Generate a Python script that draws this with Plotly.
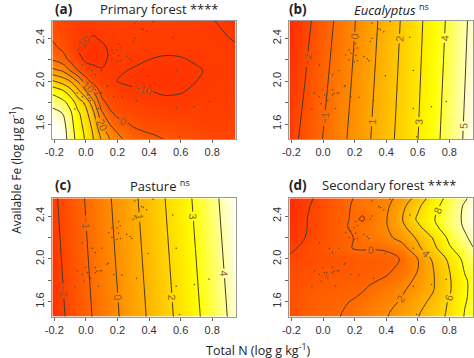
import plotly.graph_objects as go

# Shared sample points: total N (log), available Fe (log)
pts_n = [.165,.176,.197,.218,.207,.165,.218,.259,.28,.29,.30,.31,.353,.385,.364,.31,.426,.55,-.023,.04,.10,.06,.572,.395,.14,.06,.09,.10,.06,.023,-.054,-.023,.02,.03,-.012,-.07,.08,.176,.228,.32,.572,.687,.593,.78,.144,.197,.134,.07,-.002,.009,.207]
pts_fe = [2.29,2.26,2.29,2.31,2.24,2.20,2.19,2.23,2.21,2.19,2.37,2.40,2.49,2.46,2.48,2.54,2.556,2.41,2.15,2.10,2.10,2.06,2.10,2.05,1.96,1.92,1.89,1.89,1.87,1.87,1.89,1.855,1.84,1.82,1.79,1.74,1.745,1.855,1.85,1.82,1.745,1.76,1.48,1.81,2.245,2.18,1.95,1.885,1.92,1.87,2.35]

# Panel (a) Primary forest
a_x = [-0.25,-0.15,-0.1,-0.05,0,.05,.1,.15,.2,.3,.4,.5,.6,.7,.8,1.0]
a_y = [1.4,1.5,1.6,1.7,1.8,1.9,2.0,2.1,2.2,2.3,2.4,2.6]
a_z = [
 [81,77,66,57,49,40,32,24,18,7,3,1,-1,-3,-5,-5],
 [80,76,65,56,48,39,27,18,11,2.5,.5,-1,-2.5,-4,-6,-6],
 [78,74,64,54,46,36,20,10,3,-1,-3,-4,-5,-6,-7,-7],
 [74,70,62,52,43,31,12,2,-2,-4,-6,-7,-7.5,-7.5,-8,-7.5],
 [68,63,57,45,38,22,3,-3,-5,-7,-8,-9,-9,-8.5,-8.5,-8],
 [60,53,45,34,21,10,-3,-6,-7.5,-9.3,-9.8,-10.5,-10.2,-9.3,-9,-8.5],
 [44,36,30,19,4,-4,-7,-8,-10.1,-10.8,-11.5,-12,-11.5,-10,-9.2,-8.7],
 [25,19,10,0,-6,-7.5,-9.7,-9,-9.5,-10.3,-11,-11.5,-11.5,-10.4,-9.4,-8.8],
 [10.5,5,-2,-7,-11.5,-12.5,-11,-9.5,-8.8,-9.2,-10,-10.5,-10.3,-9.6,-9,-9],
 [5,-1,-5,-10.4,-11.5,-12.5,-11,-9.5,-8.5,-8.5,-9,-9.2,-9.2,-9,-8.8,-9.8],
 [1,-3,-6,-9,-9.8,-10.3,-9.5,-9,-8.2,-8,-8.3,-8.5,-8.6,-8.8,-9,-10.8],
 [-3,-6,-8,-9,-9,-8,-8,-8,-8,-8,-8,-8,-8.5,-9,-10,-12.5],
]

# Panel (b) Eucalyptus
b_x = [-0.25,-0.1,0,0.1,0.2,0.3,0.4,0.5,0.6,0.7,0.8,1.0]
b_y = [1.4,2.0,2.6]
b_z = [
 [-2.6,-1.6,-0.95,-0.3,0.33,1.0,1.67,2.33,3.0,3.72,4.43,5.8],
 [-3.0,-1.9,-1.22,-0.54,0.14,0.83,1.52,2.2,2.88,3.6,4.3,5.7],
 [-3.4,-2.2,-1.5,-0.78,-0.05,0.66,1.36,2.07,2.77,3.47,4.17,5.6],
]

# Panel (c) Pasture
c_x = [-0.25,-0.1,0,0.1,0.2,0.3,0.4,0.5,0.6,0.7,0.8,1.0]
c_y = [1.4,2.0,2.6]
c_z = [
 [-2.7,-1.83,-1.24,-0.66,-0.08,0.5,1.09,1.67,2.25,2.84,3.42,4.6],
 [-2.55,-1.68,-1.09,-0.5,0.08,0.67,1.25,1.83,2.42,3.01,3.59,4.77],
 [-2.4,-1.53,-0.94,-0.35,0.24,0.83,1.42,2.0,2.59,3.18,3.76,4.95],
]

# Panel (d) Secondary forest
d_x = [-0.25,-0.1,0,0.1,0.2,0.25,0.3,0.4,0.5,0.6,0.7,0.8,0.9,1.0]
d_y = [1.4,1.5,1.6,1.7,1.8,1.9,2.0,2.1,2.2,2.3,2.37,2.5,2.6]
d_z = [
 [-2,-.5,-.2,0,.6,1,1.4,2,3,4.1,5.2,6.5,8.2,9],
 [-1.8,-.6,-.3,-.1,.4,.8,1.2,1.8,2.7,3.8,5,6.3,8.1,9],
 [-1.5,-.7,-.4,-.2,.1,.4,.8,1.4,2.2,3.3,4.5,6.2,7.9,9],
 [-1.5,-.9,-.6,-.4,-.2,-.05,.3,1,1.8,2.8,4,5.8,7.8,9],
 [-1.6,-1.1,-.8,-.7,-.5,-.35,-.2,.2,1.2,2.4,3.9,5.8,7.8,9.2],
 [-1.7,-1.3,-1,-.9,-.8,-.7,-.6,-.3,.4,2,4,6,8.2,9.4],
 [-2,-1.5,-1.3,-1,-.8,-.7,-.6,-.5,.1,2,4.4,6.4,8.6,9.8],
 [-2.5,-1.6,-1,-.5,.1,.15,.1,.2,1.2,3.6,5.5,7.8,9,10.8],
 [-3,-1.9,-1.2,-.6,.05,.4,.8,1.5,2.7,4.3,6.2,8.4,9.8,11],
 [-3.2,-2,-1.2,-.45,.35,.6,.95,1.85,3.5,5.6,7.6,9,10.2,11.2],
 [-3.3,-2,-1.2,-.45,.25,-.2,.6,1.9,3.9,6.3,7.9,9.1,10.3,11.5],
 [-3.5,-2.15,-1.4,-.6,.2,.6,.95,1.6,3.4,5.6,7.4,8.9,10.2,11.5],
 [-3.5,-2.4,-1.6,-.8,0,.35,.7,1.4,2.4,4.2,6.6,8.4,9.6,11],
]

x_tickvals = [-0.2,0,0.2,0.4,0.6,0.8]
x_ticktext = ["-0.2","0.0","0.2","0.4","0.6","0.8"]
y_tickvals = [1.6,2.0,2.4]
y_ticktext = ["1.6","2.0","2.4"]
y_minor = [1.8,2.2]

heat = [[0,"#FF2600"],[0.26,"#FF6E00"],[0.52,"#FFB400"],[0.78,"#FFFF00"],[0.92,"#FFFFA0"],[1,"#FFFFF5"]]
W, H = 474, 358
LINE = "#4A3A2C"
LABEL = "#8A5A32"
TICK = "Liberation Sans, Arial, sans-serif"
SANS = "Open Sans, Noto Sans, sans-serif"

panels = [
 dict(x=a_x,y=a_y,z=a_z,zmin=-16,zmax=76,start=-10,end=70,size=10,px=(46,232),py=(20.5,139),
      xr=(-0.2125,0.948),yr=(1.46,2.566)),
 dict(x=b_x,y=b_y,z=b_z,zmin=-3.2,zmax=5.5,start=-2,end=5,size=1,px=(286.7,473),py=(20.5,139),
      xr=(-0.2125,0.95),yr=(1.46,2.566)),
 dict(x=c_x,y=c_y,z=c_z,zmin=-2.8,zmax=4.6,start=-2,end=4,size=1,px=(46,232),py=(198.3,316.7),
      xr=(-0.2125,0.948),yr=(1.46,2.566)),
 dict(x=d_x,y=d_y,z=d_z,zmin=-3.5,zmax=11,start=-2,end=10,size=2,px=(286.7,473),py=(198.3,316.7),
      xr=(-0.2125,0.95),yr=(1.46,2.566)),
]

fig = go.Figure()
layout = {}
for i, p in enumerate(panels, 1):
    sx = "" if i == 1 else str(i)
    fig.add_trace(go.Contour(
        x=p["x"], y=p["y"], z=p["z"], zmin=p["zmin"], zmax=p["zmax"], colorscale=heat,
        showscale=False, hoverinfo="skip", line=dict(color=LINE, width=1, smoothing=1.0),
        contours=dict(coloring="heatmap", start=p["start"], end=p["end"], size=p["size"],
                      showlabels=True, labelfont=dict(size=10.5, color=LABEL, family=TICK)),
        xaxis="x"+sx, yaxis="y"+sx))
    fig.add_trace(go.Scatter(
        x=pts_n, y=pts_fe, mode="markers", marker=dict(size=1.5, color="#6A4420"),
        hoverinfo="skip", xaxis="x"+sx, yaxis="y"+sx))
    layout["xaxis"+sx] = dict(
        domain=[p["px"][0]/W, p["px"][1]/W], range=list(p["xr"]), anchor="y"+sx,
        tickvals=x_tickvals, ticktext=x_ticktext, ticks="outside", ticklen=3, tickcolor="#666",
        tickfont=dict(size=11, family=TICK, color="#333"),
        showline=True, mirror=True, linecolor="#999", linewidth=1, showgrid=False, zeroline=False)
    layout["yaxis"+sx] = dict(
        domain=[1-p["py"][1]/H, 1-p["py"][0]/H], range=list(p["yr"]), anchor="x"+sx,
        tickvals=y_tickvals, ticktext=y_ticktext, ticks="outside", ticklen=3, tickcolor="#666",
        minor=dict(tickvals=y_minor, ticks="outside", ticklen=3, tickcolor="#666"),
        tickangle=-90, tickfont=dict(size=11, family=TICK, color="#333"),
        showline=True, mirror=True, linecolor="#999", linewidth=1, showgrid=False, zeroline=False)

def note(px, py, text, size=11.5, bold=False, angle=0, family=SANS, color="#222222"):
    return dict(x=px/W, y=1-py/H, xref="paper", yref="paper", text=f"<b>{text}</b>" if bold else text,
                showarrow=False, textangle=angle, xanchor="center", yanchor="middle",
                font=dict(size=size, family=family, color=color))

annotations = [
    note(57.5, 9, "(a)", 13.5, True), note(155, 9, "Primary forest ****", 13),
    note(295.5, 9, "(b)", 13.5, True), note(390, 9, "<i>Eucalyptus</i> <sup>ns</sup>", 13),
    note(57.5, 185, "(c)", 13.5, True), note(155, 185, "Pasture <sup>ns</sup>", 13),
    note(295.5, 185, "(d)", 13.5, True), note(388, 185, "Secondary forest ****", 13),
    note(255, 350, "Total N (log g kg<sup>-1</sup>)", 12.5),
    note(9, 170, "Available Fe (log µg g<sup>-1</sup>)", 12, angle=-90),
]

fig.update_layout(width=W, height=H, margin=dict(l=0, r=0, t=0, b=0), paper_bgcolor="white",
                  plot_bgcolor="white", showlegend=False, annotations=annotations, **layout)
fig.write_html("out.html", config={"displayModeBar": False},
               post_script="document.body.style.margin='0';")
